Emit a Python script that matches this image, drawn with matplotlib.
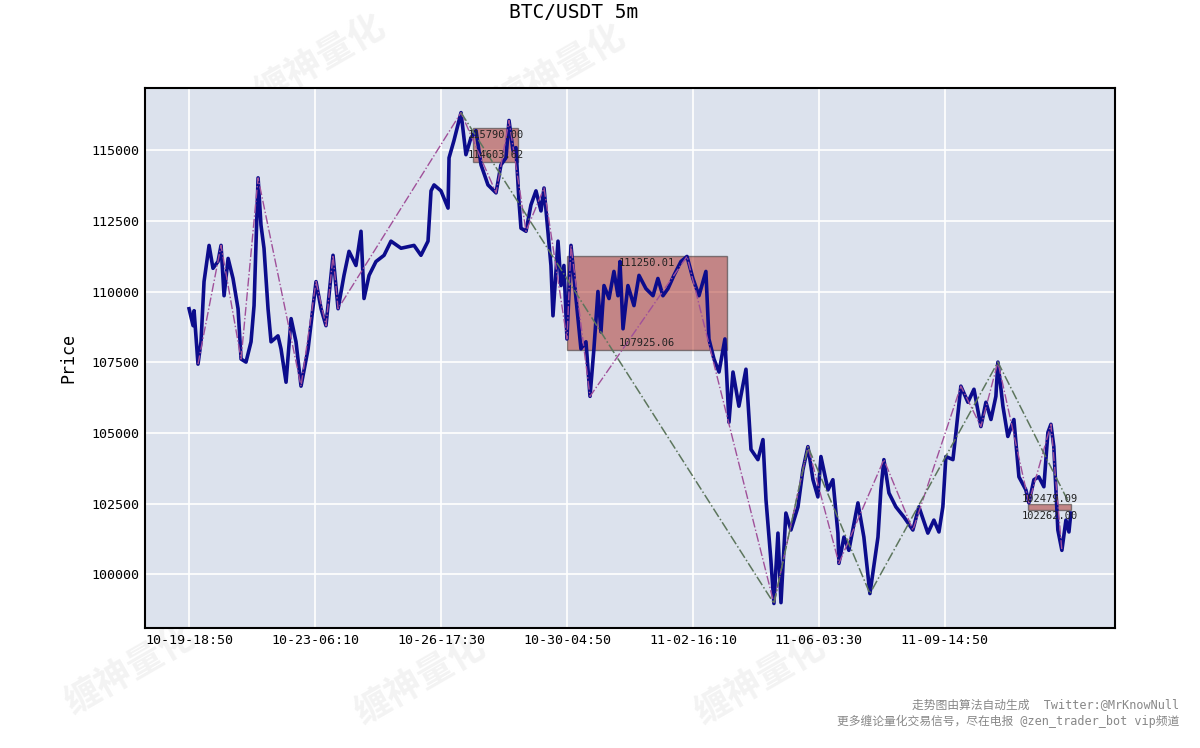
import matplotlib
matplotlib.use('Agg')
import matplotlib.pyplot as plt
from matplotlib.patches import Rectangle

plt.rcParams['font.family'] = ['DejaVu Sans Mono', 'Noto Sans CJK SC']

# price path (bar index, close)
bar_idx = [0, 32, 40, 71, 95, 119, 159, 190, 230, 254, 278, 310, 349, 389, 413, 452, 492, 516,
           548, 571, 595, 627, 651, 706, 730, 770, 810, 849, 889, 945, 1008, 1048, 1087, 1143,
           1183, 1230, 1270, 1325, 1365, 1389, 1429, 1484, 1548, 1603, 1683, 1786, 1841, 1897,
           1921, 1945, 2000, 2056, 2064, 2103, 2159, 2198, 2238, 2278, 2318, 2373, 2437, 2476,
           2516, 2540, 2572, 2595, 2619, 2635, 2675, 2714, 2754, 2794, 2818, 2849, 2873, 2889,
           2929, 2953, 2976, 3000, 3032, 3072, 3111, 3151, 3183, 3214, 3246, 3270, 3294, 3334,
           3373, 3405, 3421, 3445, 3484, 3532, 3572, 3627, 3683, 3722, 3762, 3802, 3849, 3905,
           3953, 4000, 4048, 4103, 4127, 4167, 4207, 4254, 4286, 4318, 4365, 4421, 4461, 4516,
           4556, 4580, 4619, 4643, 4675, 4699, 4738, 4778, 4834, 4873, 4913, 4953, 4992, 5016,
           5072, 5111, 5151, 5159, 5199, 5238, 5310, 5357, 5405, 5469, 5492, 5516, 5556, 5611,
           5675, 5746, 5794, 5865, 5913, 5953, 5984, 6008, 6064, 6088, 6127, 6183, 6231, 6286,
           6326, 6366, 6405, 6421, 6461, 6500, 6548, 6588, 6643, 6667, 6707, 6746, 6786, 6818,
           6842, 6865, 6897, 6929, 6961, 6985, 7000]
close = [109400, 108800, 109330, 107440, 108230, 110360, 111640, 110830, 111070, 111640, 109860,
         111180, 110470, 109400, 107620, 107510, 108230, 109510, 114030, 112360, 111540, 109400,
         108230, 108440, 107980, 106800, 109050, 108230, 106660, 107980, 110360, 109400, 108800,
         111290, 109400, 110580, 111430, 110930, 112140, 109760, 110580, 111070, 111290, 111790,
         111540, 111640, 111290, 111790, 113570, 113780, 113570, 112960, 114740, 115350, 116340,
         114850, 115450, 115700, 114490, 113780, 113500, 114490, 114740, 116060, 114990, 115100,
         113210, 112250, 112140, 113070, 113570, 112860, 113670, 112140, 110930, 109150, 111790,
         110220, 110930, 108330, 111640, 109760, 107980, 108230, 106300, 107980, 110010, 108580,
         110220, 109760, 110720, 109860, 111070, 108690, 110220, 109510, 110580, 110110, 109860,
         110470, 109860, 110110, 110580, 111070, 111250, 110470, 109860, 110720, 108330, 107620,
         107160, 108330, 105380, 107160, 105950, 107260, 104420, 104060, 104770, 102640, 100500,
         98970, 101460, 99000, 102170, 101570, 102390, 103700, 104520, 103350, 102740, 104170,
         102990, 103350, 101460, 100390, 101320, 100850, 102530, 101320, 99320, 101320, 102990,
         104060, 102880, 102390, 102030, 101570, 102390, 101460, 101920, 101500, 102390, 104170,
         104060, 105020, 106660, 106090, 106550, 105230, 106090, 105480, 106300, 107510, 105950,
         104880, 105480, 103450, 102990, 102530, 103350, 103450, 103100, 105020, 105310, 104520,
         101570, 100850, 101920, 101500, 102170]

# strokes (bi) and segments
bi_idx = [71, 254, 413, 548, 889, 1008, 1087, 1143, 1183, 2159, 2437, 2540, 2675, 2818, 3000,
          3032, 3183, 3953, 4643, 4913, 5159, 5516, 5746, 6127, 6286, 6421, 6667, 6842, 6929]
bi_price = [107440, 111640, 107620, 114030, 106660, 110360, 108800, 111290, 109400, 116340,
            113500, 116060, 112140, 113670, 108330, 111640, 106300, 111250, 98970, 104520,
            100390, 104060, 101570, 106660, 105230, 107510, 102530, 105310, 100850]
seg_idx = [2159, 4643, 4913, 5405, 6421, 6985]
seg_price = [116340, 98970, 104520, 99320, 107510, 102530]

# pivot zones
zs_start = [2254, 3000, 6659]
zs_end = [2611, 4270, 7000]
zs_low = [114603.62, 107925.06, 102262.00]
zs_high = [115790.00, 111250.01, 102479.09]

tick_pos = [0, 1000, 2000, 3000, 4000, 5000, 6000]
tick_labels = ['10-19-18:50', '10-23-06:10', '10-26-17:30', '10-30-04:50',
               '11-02-16:10', '11-06-03:30', '11-09-14:50']

fig = plt.figure(figsize=(12, 7.48), dpi=100)

# faint watermarks
for wx, wy in [(320, 60), (560, 70), (130, 670), (420, 680), (760, 680)]:
    fig.text(wx / 1200, 1 - wy / 748, '缠神量化', fontsize=26, color='#f3f3f3', rotation=30,
             ha='center', va='center', fontweight='bold', zorder=-1)

ax = fig.add_axes([0.1208, 0.1604, 0.8083, 0.7219])
ax.set_facecolor('#dce2ed')
ax.grid(True, color='white', lw=1.2)
ax.set_axisbelow(True)

for s0, s1, lo, hi in zip(zs_start, zs_end, zs_low, zs_high):
    ax.add_patch(Rectangle((s0, lo), s1 - s0, hi - lo, facecolor='#b03a32', alpha=0.55,
                           edgecolor='#333333', lw=1, zorder=2))
    thin = hi - lo < 1000
    ax.annotate(f'{hi:.2f}', ((s0 + s1) / 2, hi), xytext=(0, 4 if thin else -5),
                textcoords='offset points', ha='center', va='center', fontsize=7.5,
                color='#222222', zorder=5)
    ax.annotate(f'{lo:.2f}', ((s0 + s1) / 2, lo), xytext=(0, -4 if thin else 5),
                textcoords='offset points', ha='center', va='center', fontsize=7.5,
                color='#222222', zorder=5)

ax.plot(bar_idx, close, color='#0c0c8c', lw=2.6, zorder=3)
ax.plot(bi_idx, bi_price, color='#a0509a', lw=1, ls='-.', zorder=4)
ax.plot(seg_idx, seg_price, color='#5d765d', lw=1.1, ls='-.', zorder=4)

ax.set_xticks(tick_pos)
ax.set_xticklabels(tick_labels)
ax.set_yticks([100000, 102500, 105000, 107500, 110000, 112500, 115000])
ax.tick_params(labelsize=9.6, length=0, pad=4)
ax.set_ylabel('Price', fontsize=12, labelpad=10)
for sp in ax.spines.values():
    sp.set_color('black')
    sp.set_linewidth(1.5)

fig.text(574 / 1200, 1 - 12 / 748, 'BTC/USDT 5m', ha='center', va='center', fontsize=14)
fig.text(0.983, 1 - 705 / 748, '走势图由算法自动生成  Twitter:@MrKnowNull', ha='right',
         va='center', fontsize=8.5, color='#888888')
fig.text(0.983, 1 - 721 / 748, '更多缠论量化交易信号，尽在电报 @zen_trader_bot vip频道',
         ha='right', va='center', fontsize=8.5, color='#888888')

fig.savefig('out.png', dpi=100)
